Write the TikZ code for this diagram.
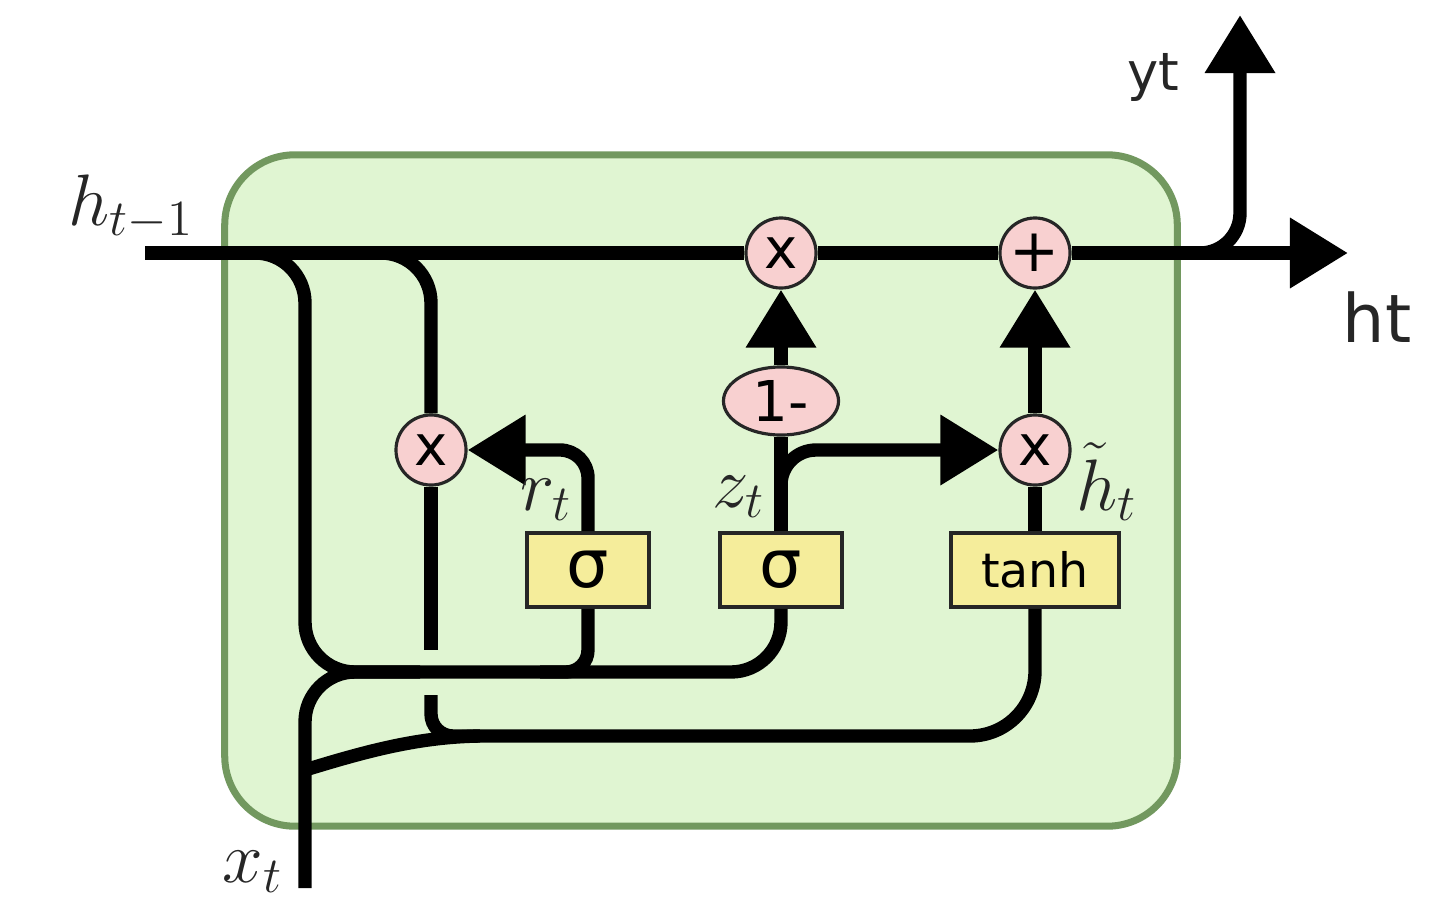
\documentclass[tikz,border=0pt]{standalone}
\usepackage{fontspec}
\newfontfamily\dv{DejaVu Sans}
\usetikzlibrary{arrows.meta,shapes.geometric}
\definecolor{cellfill}{RGB}{224,245,210}
\definecolor{celldraw}{RGB}{114,152,95}
\definecolor{opfill}{RGB}{248,208,208}
\definecolor{gatefill}{RGB}{245,237,155}
\begin{document}
\begin{tikzpicture}[x=0.01cm,y=-0.01cm,
  wire/.style={line width=3.8pt},
  tip/.style={-{Triangle[length=0.58cm,width=0.67cm]}},
  op/.style={circle,draw=black!85,line width=0.9pt,fill=opfill,minimum size=0.7cm,inner sep=0pt},
  opx/.style={op,font=\dv\fontsize{16}{18}\selectfont},
  gate/.style={rectangle,draw=black!85,line width=1pt,fill=gatefill,minimum height=0.74cm,inner sep=0pt},
  lbl/.style={inner sep=0pt,anchor=base west,text=black!85},
  mlbl/.style={lbl,font=\fontsize{21}{25}\selectfont},
]
\useasboundingbox (0,0) rectangle (1449,900);
% cell
\node[draw=celldraw,fill=cellfill,line width=2pt,rounded corners=0.7cm,
      minimum width=9.52cm,minimum height=6.71cm,inner sep=0pt] (cell) at (701,490.5) {};
% operators
\node[opx] (mz) at (781,253) {x};
\node[op,font=\dv\fontsize{17}{18}\selectfont] (pl) at (1035,253) {+};
\node[opx] (mr) at (431,450) {x};
\node[opx] (mh) at (1035,450) {x};
\node[ellipse,draw=black!85,line width=0.9pt,fill=opfill,minimum width=1.15cm,minimum height=0.68cm,
      inner sep=0pt,font=\dv\fontsize{16}{18}\selectfont] (om) at (781,401) {1-};
% gates
\node[gate,minimum width=1.22cm,font=\dv\fontsize{19}{20}\selectfont] (sr) at (588,570) {σ};
\node[gate,minimum width=1.22cm,font=\dv\fontsize{19}{20}\selectfont] (sz) at (781,570) {σ};
\node[gate,minimum width=1.68cm,font=\dv\fontsize{13.5}{15}\selectfont] (th) at (1035,570) {tanh};
% free ends
\coordinate (hin) at (145,253);
\coordinate (hout) at (1348,253);
\coordinate (yout) at (1240,15);
\coordinate (xin) at (305,888);
% main line
\draw[wire] (hin) -- (mz);
\draw[wire] (mz) -- (pl);
\draw[wire,tip] (pl) -- (hout);
\draw[wire,tip,rounded corners=0.4cm] (1180,253) -- (1240,253) -- (yout);
% h_{t-1} branch to gates
\draw[wire,rounded corners=0.5cm] (240,253) -- (305,253) -- (305,672) -- (781,672) -- (sz.south);
\draw[wire,rounded corners=0.22cm] (sr.south) -- (588,672) -- (540,672);
% x_t input
\draw[wire,rounded corners=0.5cm] (xin) -- (305,672) -- (420,672);
\draw[wire] (305,770) .. controls (370,750) and (420,737) .. (480,736);
\draw[wire,rounded corners=0.65cm] (470,736) -- (1035,736) -- (th.south);
% h_{t-1} branch to reset gate
\draw[wire,rounded corners=0.5cm] (360,253) -- (431,253) -- (mr);
\draw[wire] (mr) -- (431,650);
\draw[wire,rounded corners=0.22cm] (431,695) -- (431,736) -- (470,736);
% reset gate
\draw[wire,tip,rounded corners=0.28cm] (sr) -- (588,450) -- (mr);
% update gate
\draw[wire] (sz) -- (om);
\draw[wire,tip] (om) -- (mz);
\draw[wire,tip,rounded corners=0.35cm] (781,520) -- (781,450) -- (mh);
% candidate
\draw[wire] (th) -- (mh);
\draw[wire,tip] (mh) -- (pl);
% labels
\node[mlbl] (lh) at (68,225) {$h_{t-1}$};
\node[mlbl] (lx) at (222,882) {$x_t$};
\node[mlbl] (lr) at (520,510) {$r_t$};
\node[mlbl] (lz) at (712,507) {$z_t$};
\node[mlbl] (lht) at (1076,510) {$\tilde{h}_t$};
\node[lbl,font=\dv\fontsize{15}{18}\selectfont] (ly) at (1127,90) {yt};
\node[lbl,font=\dv\fontsize{19}{22}\selectfont] (lhto) at (1342,342) {ht};
\end{tikzpicture}
\end{document}
